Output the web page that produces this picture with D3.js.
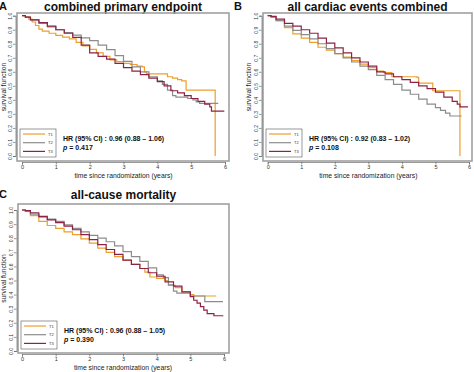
<!DOCTYPE html>
<html>
<head>
<meta charset="utf-8">
<style>
html, body { margin: 0; padding: 0; background: #fff; }
svg { display: block; font-family: "Liberation Sans", Arial, sans-serif; }
</style>
</head>
<body>
<svg width="474" height="372"></svg>
<script src="https://d3js.org/d3.v7.min.js"></script>
<script>
// tick values / labels
var xTicks = [0, 1, 2, 3, 4, 5, 6];
var yTicks = [0, 0.1, 0.2, 0.3, 0.4, 0.5, 0.6, 0.7, 0.8, 0.9, 1.0];
var groups = ["T1", "T2", "T3"];
var groupColors = ["#ee9f2c", "#8c8c8c", "#8e2244"];

var titles = ["combined primary endpoint", "all cardiac events combined", "all-cause mortality"];
var letters = ["A", "B", "C"];
var hrTexts = ["HR (95% CI) : 0.96 (0.88 \u2013 1.06)", "HR (95% CI) : 0.92 (0.83 \u2013 1.02)", "HR (95% CI) : 0.96 (0.88 \u2013 1.05)"];
var pTexts = ["= 0.417", "= 0.108", "= 0.390"];

// [years, survival] step points
var primaryT1 = [[0,1],[0.1,0.99],[0.2,0.975],[0.3,0.955],[0.4,0.93],[0.5,0.905],[0.6,0.89],[0.8,0.875],[1.0,0.86],[1.2,0.848],[1.4,0.835],[1.6,0.81],[1.8,0.785],[2.0,0.76],[2.2,0.735],[2.4,0.71],[2.6,0.685],[2.8,0.672],[3.0,0.66],[3.2,0.652],[3.4,0.64],[3.55,0.635],[3.62,0.6],[3.68,0.585],[4.3,0.565],[4.45,0.555],[4.6,0.545],[4.72,0.535],[4.85,0.47],[5.71,0]];
var primaryT2 = [[0,1],[0.1,0.99],[0.25,0.97],[0.5,0.945],[0.75,0.92],[1.0,0.9],[1.25,0.88],[1.5,0.862],[1.75,0.842],[2.0,0.822],[2.25,0.79],[2.5,0.758],[2.75,0.715],[3.0,0.675],[3.25,0.635],[3.5,0.6],[3.75,0.565],[4.0,0.535],[4.15,0.51],[4.3,0.47],[4.45,0.43],[4.55,0.42],[4.9,0.41],[5.05,0.4],[5.15,0.385],[5.25,0.375],[5.8,0.375]];
var primaryT3 = [[0,1],[0.1,0.99],[0.25,0.97],[0.5,0.95],[0.75,0.925],[1.0,0.9],[1.25,0.875],[1.5,0.845],[1.75,0.79],[2.0,0.735],[2.25,0.71],[2.5,0.69],[2.75,0.66],[3.0,0.63],[3.25,0.605],[3.5,0.58],[3.75,0.555],[4.0,0.53],[4.2,0.5],[4.4,0.465],[4.6,0.45],[4.8,0.43],[5.0,0.41],[5.2,0.39],[5.4,0.37],[5.55,0.35],[5.6,0.32],[5.98,0.32]];

var cardiacT1 = [[0,1],[0.1,0.99],[0.25,0.965],[0.5,0.915],[0.75,0.87],[1.0,0.84],[1.25,0.81],[1.5,0.775],[1.75,0.755],[2.0,0.73],[2.25,0.705],[2.5,0.68],[2.75,0.655],[3.0,0.63],[3.25,0.605],[3.45,0.595],[3.7,0.565],[4.45,0.56],[4.5,0.52],[4.9,0.52],[4.92,0.465],[5.73,0]];
var cardiacT2 = [[0,1],[0.1,0.99],[0.25,0.965],[0.5,0.925],[0.75,0.895],[1.0,0.865],[1.25,0.835],[1.5,0.8],[1.75,0.765],[2.0,0.73],[2.25,0.7],[2.5,0.67],[2.75,0.64],[3.0,0.615],[3.25,0.575],[3.5,0.545],[3.75,0.51],[4.0,0.47],[4.25,0.44],[4.5,0.405],[4.75,0.37],[5.0,0.345],[5.15,0.325],[5.3,0.305],[5.43,0.285],[5.78,0.285]];
var cardiacT3 = [[0,1],[0.1,0.995],[0.25,0.975],[0.5,0.945],[0.75,0.925],[1.0,0.9],[1.25,0.875],[1.5,0.84],[1.75,0.805],[2.0,0.77],[2.25,0.735],[2.5,0.7],[2.75,0.67],[3.0,0.64],[3.25,0.6],[3.5,0.585],[3.75,0.565],[4.0,0.545],[4.25,0.525],[4.5,0.5],[4.75,0.48],[5.0,0.455],[5.25,0.42],[5.5,0.39],[5.65,0.37],[5.73,0.35],[5.97,0.35]];

var mortalityT1 = [[0,1],[0.1,0.99],[0.25,0.96],[0.5,0.92],[0.75,0.89],[1.0,0.87],[1.25,0.845],[1.5,0.825],[1.75,0.795],[2.0,0.765],[2.25,0.73],[2.5,0.7],[2.75,0.67],[3.0,0.645],[3.25,0.615],[3.5,0.585],[3.65,0.56],[3.8,0.525],[4.0,0.515],[4.25,0.5],[4.35,0.465],[4.55,0.45],[4.75,0.42],[5.0,0.4],[5.1,0.39],[5.77,0.39]];
var mortalityT2 = [[0,1],[0.1,0.99],[0.25,0.97],[0.5,0.95],[0.75,0.935],[1.0,0.92],[1.25,0.895],[1.5,0.87],[1.75,0.845],[2.0,0.82],[2.25,0.8],[2.5,0.775],[2.75,0.745],[3.0,0.705],[3.25,0.67],[3.5,0.635],[3.75,0.59],[4.0,0.54],[4.2,0.52],[4.35,0.47],[4.5,0.425],[4.6,0.41],[5.0,0.39],[5.43,0.35],[5.97,0.35]];
var mortalityT3 = [[0,1],[0.1,0.995],[0.25,0.98],[0.5,0.955],[0.75,0.93],[1.0,0.91],[1.25,0.885],[1.5,0.86],[1.75,0.825],[2.0,0.79],[2.25,0.755],[2.5,0.72],[2.75,0.685],[3.0,0.645],[3.25,0.615],[3.5,0.585],[3.75,0.555],[4.0,0.53],[4.25,0.49],[4.5,0.46],[4.75,0.42],[5.0,0.385],[5.1,0.36],[5.2,0.34],[5.3,0.315],[5.4,0.29],[5.5,0.265],[5.7,0.25],[5.98,0.25]];

var seriesByPanel = [
  [primaryT1, primaryT2, primaryT3],
  [cardiacT1, cardiacT2, cardiacT3],
  [mortalityT1, mortalityT2, mortalityT3]
];

// panel layout: frame box, where 0/6 years and 1.0/0.0 land, letter / titles
var layout = [
  {fx0: 17, fx1: 229, fy0: 13, fy1: 161, x0: 22, x1: 225, y1: 15.7, y0: 156, lx: -1, ty: 10.5, yt: 5.5},
  {fx0: 263, fx1: 472, fy0: 13, fy1: 161, x0: 267.7, x1: 469, y1: 15.7, y0: 156, lx: 234, ty: 10.5, yt: 251},
  {fx0: 18, fx1: 229, fy0: 204, fy1: 353, x0: 22, x1: 224, y1: 210, y0: 351, lx: -1, ty: 199, yt: 5.5}
];

var svg = d3.select("svg");
svg.append("rect").attr("width", 474).attr("height", 372).attr("fill", "#fff");

layout.forEach(function(L, i) {
  var g = svg.append("g");
  var x = d3.scaleLinear().domain([0, 6]).range([L.x0, L.x1]);
  var y = d3.scaleLinear().domain([0, 1]).range([L.y0, L.y1]);

  // letter + title
  g.append("text").attr("x", L.lx).attr("y", L.ty - 1)
    .attr("font-size", 11).attr("font-weight", "bold").attr("fill", "#111").text(letters[i]);
  g.append("text").attr("x", (L.fx0 + L.fx1) / 2).attr("y", L.ty)
    .attr("text-anchor", "middle").attr("font-size", 12).attr("font-weight", "bold")
    .attr("fill", "#111").text(titles[i]);

  // frame
  g.append("rect").attr("x", L.fx0).attr("y", L.fy0)
    .attr("width", L.fx1 - L.fx0).attr("height", L.fy1 - L.fy0)
    .attr("fill", "none").attr("stroke", "#a0a0a0").attr("stroke-width", 1.6);

  // x axis
  var xa = g.append("g").attr("transform", "translate(0," + (L.fy1 + 1) + ")")
    .call(d3.axisBottom(x).tickValues(xTicks).tickFormat(d3.format("d")).tickSize(2.5).tickPadding(1));
  xa.select(".domain").attr("stroke", "#555").attr("stroke-width", 0.6);
  xa.selectAll(".tick line").attr("stroke", "#555").attr("stroke-width", 0.6);
  xa.selectAll("text").attr("font-size", 5.5).attr("fill", "#333");

  // y axis
  var ya = g.append("g").attr("transform", "translate(" + (L.fx0 - 1.5) + ",0)")
    .call(d3.axisLeft(y).tickValues(yTicks).tickFormat(d3.format(".1f")).tickSize(2.5).tickPadding(1.5));
  ya.select(".domain").attr("stroke", "#555").attr("stroke-width", 0.6);
  ya.selectAll(".tick line").attr("stroke", "#555").attr("stroke-width", 0.6);
  ya.selectAll("text").attr("font-size", 5).attr("fill", "#333")
    .attr("x", null).attr("dy", null)
    .attr("text-anchor", "middle")
    .attr("transform", "translate(-3.5,0) rotate(-90)");

  // axis titles
  g.append("text").attr("x", (L.x0 + L.x1) / 2).attr("y", L.fy1 + 16.5)
    .attr("text-anchor", "middle").attr("font-size", 6.8).attr("fill", "#222")
    .text("time since randomization (years)");
  g.append("text").attr("transform", "translate(" + L.yt + "," + ((L.fy0 + L.fy1) / 2) + ") rotate(-90)")
    .attr("text-anchor", "middle").attr("font-size", 6.8).attr("fill", "#222")
    .text("survival function");

  // curves
  var line = d3.line().curve(d3.curveStepAfter)
    .x(function(d) { return x(d[0]); })
    .y(function(d) { return y(d[1]); });
  seriesByPanel[i].forEach(function(s, k) {
    g.append("path").datum(s).attr("d", line).attr("fill", "none")
      .attr("stroke", groupColors[k]).attr("stroke-width", 1.2);
  });

  // legend
  var lx = L.fx0 + 3, ly = L.fy1 - 32;
  g.append("rect").attr("x", lx).attr("y", ly).attr("width", 36).attr("height", 28)
    .attr("fill", "#fff").attr("stroke", "#555").attr("stroke-width", 0.6);
  groups.forEach(function(name, k) {
    var yy = ly + 5 + k * 8.7;
    g.append("line").attr("x1", lx + 3).attr("x2", lx + 25).attr("y1", yy).attr("y2", yy)
      .attr("stroke", groupColors[k]).attr("stroke-width", 1.2);
    g.append("text").attr("x", lx + 28).attr("y", yy + 1.5).attr("font-size", 4)
      .attr("fill", "#333").text(name);
  });

  // HR annotation
  var tx = lx + 43;
  g.append("text").attr("x", tx).attr("y", ly + 12).attr("font-size", 7)
    .attr("font-weight", "bold").attr("fill", "#111").text(hrTexts[i]);
  var pt = g.append("text").attr("x", tx).attr("y", ly + 20.5).attr("font-size", 7)
    .attr("font-weight", "bold").attr("fill", "#111");
  pt.append("tspan").attr("font-style", "italic").text("p");
  pt.append("tspan").text(" " + pTexts[i]);
});
</script>
</body>
</html>
